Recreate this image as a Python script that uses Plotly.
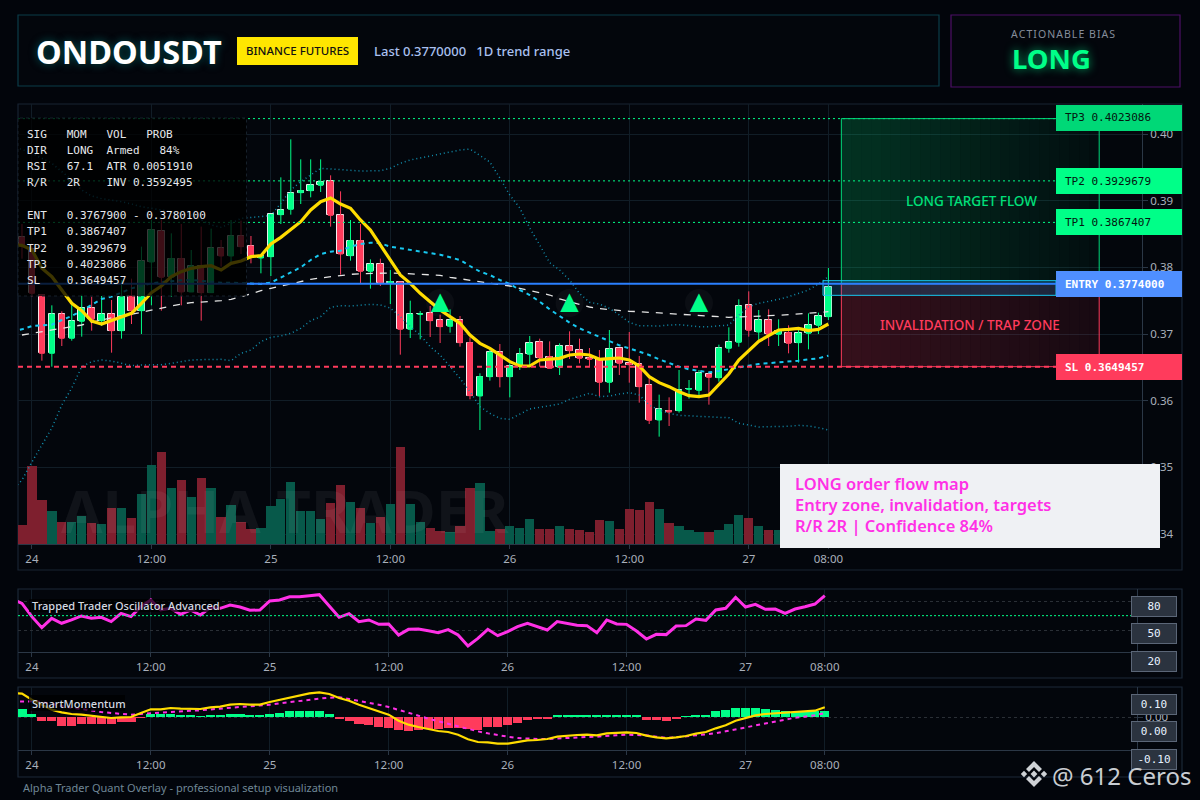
import pandas as pd
import plotly.graph_objects as go

SYMBOL = "ONDOUSDT"
VENUE = "BINANCE FUTURES"
SUBTITLE = "Last 0.3770000\u00a0\u00a0\u00a01D trend range"
BIAS = "LONG"

opens = [.3845,.3827,.3759,.3671,.37295,.36935,.3719,.37385,.3720,.37295,.3705,.37575,.3735,.3808,.3854,.3785,.3813,.3763,.3802,.3762,.38285,.3817,.3847,.3832,.3814,.3816,.3879,.3887,.3912,.3915,.3923,.3929,.3878,.38175,.3840,.3794,.38045,.3777,.3778,.3707,
 .37295,.3731,.37205,.37115,.37205,.3687,.3607,.3636,.36725,.3636,.36515,.36695,.36875,.3666,.3650,.36815,.36755,.3664,.3663,.36275,.36785,.3656,.36545,.3623,.3571,.3585,.3585,.3617,.36155,.36395,.36345,.36785,.36875,.3743,.3703,.37205,.36995,.3702,.3687,.3701,.3713,.3726]
closes = [.3833,.3761,.3671,.37295,.36935,.3719,.37385,.3722,.37295,.3705,.3756,.3735,.3809,.3856,.3785,.3813,.3763,.3802,.3762,.38285,.3817,.3847,.3831,.3815,.3817,.38795,.38855,.3911,.3915,.3923,.3928,.3878,.3820,.3840,.3794,.38045,.3777,.37785,.3707,.37295,
 .3730,.3720,.3711,.37205,.3687,.36075,.3636,.36725,.3636,.36515,.36695,.3686,.36645,.36485,.36815,.3675,.36635,.3662,.36275,.3677,.3656,.3654,.3621,.35705,.3587,.3583,.36155,.3618,.3641,.3635,.36785,.36875,.37415,.37055,.37205,.36995,.3705,.3686,.3701,.3713,.37265,.3770]
highs = [.3865,.3831,.3759,.3743,.3734,.3746,.3759,.3756,.3757,.3751,.3781,.3783,.3831,.3871,.3871,.3851,.3865,.3826,.3861,.3858,.3841,.3871,.3870,.3847,.3817,.38795,.3935,.3992,.3962,.3962,.3962,.3938,.3914,.3871,.3865,.3812,.3813,.3796,.3778,.3750,
 .37345,.3742,.3729,.3737,.3727,.3695,.3641,.3677,.3685,.3656,.3679,.3697,.3693,.3689,.3686,.3704,.3693,.3679,.3676,.3706,.3679,.3703,.3667,.3636,.3609,.3605,.3646,.3631,.3646,.3641,.3684,.3710,.3752,.3764,.3736,.3737,.3722,.3713,.3707,.3731,.3732,.3799]
lows = [.3813,.3756,.3660,.3651,.3682,.3690,.3696,.3705,.3712,.3672,.3693,.3715,.3700,.3743,.3735,.3756,.3743,.3763,.3720,.3762,.3801,.3806,.3820,.3806,.3791,.3787,.3865,.3879,.3895,.3905,.3913,.3861,.3789,.3810,.3776,.3768,.3772,.3745,.3669,.3694,
 .3692,.36955,.36865,.3702,.3681,.3602,.3556,.3630,.3620,.3605,.3646,.3651,.3651,.36485,.36385,.36625,.3656,.3651,.3607,.3612,.36385,.3627,.3597,.3565,.3546,.3562,.3582,.3603,.3606,.3594,.36285,.3672,.3681,.3696,.36885,.3682,.3682,.3671,.3657,.3677,.3700,.3721]
volumes = [19,78,44,33,22,22,28,21,20,36,36,26,50,79,92,56,64,47,66,56,27,39,22,15,16,38,45,62,33,33,25,41,59,42,36,21,27,40,97,40,
 22,16,13,12,18,56,61,13,15,18,16,25,15,15,18,15,14,12,24,23,15,35,34,42,35,21,18,14,12,12,14,20,29,26,18,14,14,16,13,18,22,20]
# The overlay lines start one bar earlier than the visible candles (clipped by the left edge).
ema_fast = [.3834,.3833,.3826,.37985,.3786,.3766,.3746,.3735,.37195,.3715,.3720,.3726,.3731,.3746,.3762,.3772,.3786,.37935,.37985,.3801,.38025,.3796,.3806,.38095,.3816,.38175,.3835,.3845,.3857,.38685,.3886,.38985,.3904,.3895,.38885,.3871,.3856,.38335,.3811,.37885,.3776,
 .3761,.37485,.3736,.3726,.3716,.36985,.3686,.36785,.36685,.36585,.3652,.3652,.3661,.36625,.36635,.36685,.367,.36685,.3662,.3663,.3664,.3661,.3652,.3636,.3627,.3621,.36135,.36075,.3606,.36085,.36235,.364,.3661,.36745,.3689,.36975,.3706,.3707,.37085,.3705,.3707,.3715]
ma_mid = [.3704,.3707,.3712,.3713,.3714,.3721,.3727,.3735,.37435,.37525,.3756,.3762,.37685,.3772,.3776,.3778,.37795,.37805,.3781,.37795,.3778,.3777,.3777,.37765,.3775,.3775,.3777,.37845,.3792,.38,.3811,.3820,.38235,.3825,.3831,.3835,.3837,.3836,.3831,.38285,.3826,
 .3824,.3822,.3819,.3815,.3811,.3802,.37935,.37885,.3781,.3775,.3766,.37585,.37485,.3737,.3727,.3717,.37085,.3702,.3695,.36895,.3683,.36785,.36735,.36685,.3662,.3656,.3651,.3647,.36445,.36425,.36445,.36475,.365,.36525,.3655,.3656,.36575,.36585,.366,.3662,.36635,.36675]
ma_slow = [.36985,.3701,.37025,.3705,.37075,.371,.37135,.37175,.3721,.37245,.37275,.37295,.37325,.3736,.37395,.3742,.3745,.3747,.37485,.3749,.375,.3752,.3756,.3761,.3765,.37685,.3772,.37755,.37785,.3782,.3784,.3786,.3788,.37895,.37905,.3791,.37915,.37915,.3791,.379,
 .3790,.3789,.3788,.3785,.3783,.378,.3778,.37765,.3775,.3772,.37685,.3765,.3762,.37585,.37525,.37485,.37435,.37405,.3738,.37365,.3735,.3734,.37335,.37325,.37315,.37305,.37295,.37285,.37275,.37265,.37255,.3725,.37255,.37265,.3727,.37275,.3728,.3729,.373,.37315,.37325,.37335]
band_upper = [.3980,.3977,.3971,.39635,.3956,.39435,.3931,.3916,.3907,.3903,.3901,.38985,.3895,.3891,.38885,.3886,.38835,.3881,.38785,.3871,.38635,.3860,.3866,.38735,.3875,.38755,.38775,.3896,.3916,.39285,.39385,.39485,.39475,.3946,.39455,.39445,.39445,.3945,.39485,.3956,.3961,
 .39635,.3967,.397,.3973,.3976,.39775,.3968,.3958,.3934,.39085,.3889,.3859,.38335,.3807,.3796,.3781,.3761,.37475,.3745,.37385,.37285,.37175,.37125,.3712,.3712,.37135,.3714,.37125,.3711,.3711,.3712,.37135,.37285,.3741,.3746,.37485,.3752,.3756,.3761,.3766,.3775,.3786]
band_lower = [.3465,.3481,.3508,.35335,.3559,.35935,.3619,.3651,.36585,.3661,.36595,.3656,.36525,.36535,.36535,.3654,.3656,.36585,.3661,.36615,.3662,.3662,.3660,.3671,.3676,.36885,.3695,.3697,.3701,.37085,.372,.3726,.3740,.37425,.3742,.3743,.37445,.37435,.3739,.3726,.3711,
 .36985,.3681,.36685,.3651,.36335,.36135,.3591,.3581,.35735,.3572,.3580,.35875,.359,.3592,.3595,.3602,.3607,.3611,.3606,.3607,.3610,.3612,.36085,.35935,.3586,.3581,.3578,.3577,.3576,.35755,.3575,.35745,.3566,.35635,.35605,.3561,.3561,.35615,.3563,.3562,.35595,.3556]
oscillator = [82,77.6,64.0,52.7,62.3,57.2,60.6,64.7,62.3,63.3,58.9,67.4,64.0,74.2,81.0,70.8,72.5,66.4,70.8,65.7,73.2,72.5,75.9,73.9,70.5,70.8,80,81,84.4,84.4,85.5,86.5,74.9,63.3,67,58.9,60.6,56.1,56.5,45.2,51,51.4,49.6,47.6,50.7,45.2,34,41.8,51,44.5,48.6,53.7,57.2,53.7,50.3,58.9,57.2,55.1,54.8,47.6,
 60.6,56.5,56.1,49.3,41.1,45.9,45.6,54.4,54.8,61.6,60.2,70.8,72.5,83.8,73.9,76.6,71.5,71.8,67.4,71.8,74.2,76.9,85.5]
mom_hist = [.025,.009,-.011,-.013,-.026,-.026,-.022,-.022,-.020,-.020,-.014,-.014,-.003,.010,.010,.009,.007,.007,.001,.007,.007,.010,.010,.007,.004,.010,.013,.017,.019,.019,.019,.010,-.005,-.011,-.020,-.023,-.029,-.032,-.038,-.041,-.038,-.035,-.035,-.032,-.032,-.035,-.038,-.029,-.029,-.023,-.017,-.008,-.005,-.005,.004,.007,.007,.006,.004,.007,.007,.007,.004,-.008,-.008,-.011,-.005,.002,.004,.007,.017,.020,.028,.028,.028,.025,.022,.019,.016,.016,.019,.019]
mom_line = [.072,.070,.052,.037,.022,.014,.009,.007,.003,-.001,-.003,-.001,0,.012,.023,.023,.027,.025,.025,.024,.029,.031,.037,.039,.037,.037,.045,.051,.059,.065,.071,.074,.069,.057,.049,.037,.027,.017,.007,-.011,-.023,-.030,-.036,-.042,-.045,-.053,-.067,-.075,-.076,-.080,-.080,-.075,-.070,-.069,-.066,-.059,-.056,-.054,-.053,-.055,-.049,-.047,-.046,-.048,-.056,-.061,-.064,-.061,-.057,-.050,-.045,-.034,-.025,-.011,-.003,.005,.009,.011,.011,.013,.016,.019,.029]
mom_signal = [.046,.047,.047,.045,.039,.033,.028,.024,.019,.015,.012,.010,.007,.009,.011,.013,.016,.019,.019,.020,.023,.025,.028,.030,.032,.034,.037,.041,.045,.048,.052,.055,.058,.059,.054,.049,.043,.037,.030,.022,.013,.004,-.005,-.013,-.021,-.029,-.036,-.043,-.049,-.055,-.059,-.063,-.065,-.066,-.066,-.064,-.062,-.061,-.060,-.059,-.058,-.055,-.053,-.053,-.055,-.059,-.063,-.061,-.058,-.056,-.053,-.049,-.043,-.037,-.031,-.025,-.019,-.013,-.008,-.002,.001,.005,.012]
for s in (opens, closes, highs, lows, volumes, ma_slow, mom_hist):
    assert len(s) == 82, len(s)
for s in (ema_fast, ma_mid, band_upper, band_lower, oscillator, mom_line, mom_signal):
    assert len(s) == 83, len(s)

signal_bars = [42, 55, 68]
signal_price = 0.37465
tick_hours = [0, 12, 24, 36, 48, 60, 72, 80]
tick_text = ["24", "12:00", "25", "12:00", "26", "12:00", "27", "08:00"]
price_ticks = [0.34, 0.35, 0.36, 0.37, 0.38, 0.39, 0.40]
tp_levels = [("TP3", 0.4023086), ("TP2", 0.3929679), ("TP1", 0.3867407)]
entry_level = 0.3774
sl_level = 0.3649457
entry_band = (0.3758, 0.3780)
osc_threshold = 65
osc_labels = ["80", "50", "20"]
mom_labels = ["0.10", "0.00", "-0.10"]
info_rows = ["SIG   MOM   VOL   PROB", "DIR   LONG  Armed   84%", "RSI   67.1  ATR 0.0051910", "R/R   2R    INV 0.3592495", "",
             "ENT   0.3767900 - 0.3780100", "TP1   0.3867407", "TP2   0.3929679", "TP3   0.4023086", "SL    0.3649457"]
box_rows = ["LONG order flow map", "Entry zone, invalidation, targets", "R/R 2R | Confidence 84%"]

GREEN, RED, YEL, MAG, CY = "#00ff88", "#ff3b5c", "#ffdc00", "#ff30e6", "#18c8f0"
BG = "#02050b"
GRID = "#111d27"
AXL = "#2b3746"
TXT = "#a9b0bb"
SANS, MONO = "Noto Sans", "DejaVu Sans Mono"
level_nudge = 0.00015

t0 = pd.Timestamp("2025-01-24 00:00")
def T(h):
    return t0 + pd.Timedelta(hours=h)
times = [T(h) for h in range(-1, 81)]
times_lead = [T(h) for h in range(-2, 81)]
xrange = [T(-1.4), T(111.5)]
ticks = [T(h) for h in tick_hours]
up = [c >= o for o, c in zip(opens, closes)]

PX = lambda x: x / 1200
PY = lambda y: 1 - y / 800

fig = go.Figure()
fig.add_bar(x=times, y=volumes, width=3360000, marker=dict(color=["#07594a" if u else "#7e1f2e" for u in up], line_width=0),
            xaxis="x", yaxis="y", name="Volume", hoverinfo="skip")
fig.add_scatter(x=times_lead, y=band_upper, mode="lines", line=dict(color="#1290b0", width=1.5, dash="1px,3px"), xaxis="x", yaxis="y2", name="Upper")
fig.add_scatter(x=times_lead, y=band_lower, mode="lines", line=dict(color="#1290b0", width=1.5, dash="1px,3px"), xaxis="x", yaxis="y2", name="Lower")
fig.add_scatter(x=times, y=ma_slow, mode="lines", line=dict(color="#e4e4e4", width=1.3, dash="7px,7px"), xaxis="x", yaxis="y2", name="MA slow")
fig.add_scatter(x=times_lead, y=ma_mid, mode="lines", line=dict(color=CY, width=2, dash="4px,4px"), xaxis="x", yaxis="y2", name="MA mid")
fig.add_candlestick(x=times, open=opens, high=highs, low=lows, close=closes, xaxis="x", yaxis="y2", name=SYMBOL,
                    increasing=dict(line=dict(color=GREEN, width=1), fillcolor=GREEN),
                    decreasing=dict(line=dict(color=RED, width=1), fillcolor=RED), whiskerwidth=0)
fig.add_bar(x=times, base=[min(o, c) for o, c in zip(opens, closes)], y=[abs(o - c) for o, c in zip(opens, closes)],
            width=2340000, marker=dict(color=[GREEN if u else RED for u in up], line=dict(color="#f3eef0", width=1)),
            xaxis="x", yaxis="y2", name="Body", hoverinfo="skip")
fig.add_scatter(x=times_lead, y=ema_fast, mode="lines", line=dict(color=YEL, width=3.2), xaxis="x", yaxis="y2", name="EMA")
sig_x = [times[i] for i in signal_bars]
sig_y = [signal_price] * len(signal_bars)
fig.add_scatter(x=sig_x, y=sig_y, mode="markers", marker=dict(symbol="circle", size=28, color="rgba(255,255,255,0.035)"), xaxis="x", yaxis="y2", hoverinfo="skip")
fig.add_scatter(x=sig_x, y=sig_y, mode="text", text=["\u25b2"] * len(sig_x), textposition="middle center",
                textfont=dict(size=24, color=GREEN, family="DejaVu Sans"), xaxis="x", yaxis="y2", name="Signal")
fig.add_scatter(x=times_lead, y=oscillator, mode="lines", line=dict(color=MAG, width=3), xaxis="x2", yaxis="y3", name="Oscillator")
fig.add_bar(x=times, y=mom_hist, width=3300000, marker=dict(color=[GREEN if v >= 0 else RED for v in mom_hist], line_width=0), xaxis="x3", yaxis="y4", name="Hist")
fig.add_scatter(x=times_lead, y=mom_signal, mode="lines", line=dict(color=MAG, width=2, dash="4px,4px"), xaxis="x3", yaxis="y4", name="Signal line")
fig.add_scatter(x=times_lead, y=mom_line, mode="lines", line=dict(color=YEL, width=2.2), xaxis="x3", yaxis="y4", name="Momentum")

shapes, notes = [], []
def prect(x0, y0, x1, y1, fill="rgba(0,0,0,0)", line=None, lw=1, layer="above", dash=None):
    shapes.append(dict(type="rect", xref="paper", yref="paper", x0=PX(x0), x1=PX(x1), y0=PY(y1), y1=PY(y0),
                       fillcolor=fill, line=dict(color=line or "rgba(0,0,0,0)", width=lw if line else 0, dash=dash), layer=layer))
def note(text, x, y, size, color, font=SANS, anchor="left", weight=None, shadow=None, **kw):
    f = dict(size=size, color=color, family=font)
    if weight: f["weight"] = weight
    if shadow: f["shadow"] = shadow
    if anchor == "left": x -= 2
    notes.append(dict(text=text.replace(" ", "\u00a0") if font == MONO else text, x=PX(x), y=PY(y), xref="paper", yref="paper",
                      showarrow=False, xanchor=anchor, yanchor="middle", font=f, **kw))
def hline(p, x0, x1, color, width, dash):
    shapes.append(dict(type="line", xref="paper", yref="y2", x0=PX(x0), x1=PX(x1), y0=p, y1=p, line=dict(color=color, width=width, dash=dash), layer="above"))

prect(18, 15, 939, 86, "#03060c", "#0b3d49", 1.2, "below")
prect(951, 15, 1180, 87, "#03060c", "#4d0f66", 1.2, "below")
prect(18, 104, 1182, 570, "#03060c", "#182432", 1.2, "below")
prect(18, 589, 1182, 678, "#03060c", "#1c2838", 1.2, "below")
prect(18, 687, 1182, 777, "#03060c", "#1c2838", 1.2, "below")

entry_draw, sl_draw = entry_level + level_nudge, sl_level + level_nudge
for _, p in tp_levels:
    hline(p, 18, 1056, GREEN, 1, "2px,3px")
hline(sl_draw, 18, 1056, RED, 2, "5px,4px")

z0, z1 = 81.3, 107.2
N = 26
top = tp_levels[0][1]
for k in range(N):
    a = z0 + (z1 - z0) * k / N
    b = z0 + (z1 - z0) * (k + 1) / N
    shapes.append(dict(type="rect", xref="x", yref="y2", x0=T(a), x1=T(b), y0=entry_draw, y1=top, line_width=0,
                       fillcolor=f"rgba(0,255,136,{0.18 - 0.15 * k / N:.3f})", layer="above"))
    shapes.append(dict(type="rect", xref="x", yref="y2", x0=T(a), x1=T(b), y0=sl_draw, y1=entry_draw, line_width=0,
                       fillcolor=f"rgba(255,59,92,{0.20 - 0.12 * k / N:.3f})", layer="above"))
shapes.append(dict(type="rect", xref="x", yref="y2", x0=T(z0), x1=T(z1), y0=entry_draw, y1=top, line=dict(color="#00d97a", width=1), layer="above"))
shapes.append(dict(type="rect", xref="x", yref="y2", x0=T(z0), x1=T(z1), y0=sl_draw, y1=entry_draw, line=dict(color=RED, width=1), layer="above"))
shapes.append(dict(type="rect", xref="paper", yref="y2", x0=PX(823), x1=PX(1056), y0=entry_band[0], y1=entry_band[1],
                   fillcolor="rgba(30,140,210,0.22)", line=dict(color=CY, width=1), layer="above"))
hline(entry_draw, 18, 1056, "#2a7fff", 2, "solid")

prect(18, 118, 246.5, 296, "rgba(0,0,0,0.76)", "#16202a", 1, dash="dot")
for k, row in enumerate(info_rows):
    if row:
        note(row, 27, 134 + k * 16.3, 11, "#e6e8ec", MONO)

lab_y = [118, 181, 222]
for (name, p), y, fc in zip(tp_levels, lab_y, ["#00d877", GREEN, GREEN]):
    prect(1056, y - 13, 1182, y + 13, fc)
    note(f"{name} {p:.7f}", 1065, y, 11, "#04150f", MONO)
prect(1056, 271, 1182, 297, "#4f8fff")
note(f"ENTRY {entry_level:.7f}", 1065, 284, 11, "#ffffff", MONO, weight=700)
prect(1056, 354, 1182, 380, RED)
note(f"SL {sl_level:.7f}", 1065, 367, 11, "#ffffff", MONO, weight=700)
note("LONG TARGET FLOW", 971, 201, 13.5, "#00e07a", SANS, "center", weight=500)
note("INVALIDATION / TRAP ZONE", 970, 325, 13.5, RED, SANS, "center", weight=500)

note("ALPHA TRADER", 285, 510, 60, "rgba(255,255,255,0.055)", SANS, "center", weight=700)

prect(780, 464, 1160, 548, "#eff1f4")
for k, row in enumerate(box_rows):
    note(row, 795, 483.5 + k * 21, 16.5, MAG, SANS, weight=600)

prect(29, 599, 220, 612, "rgba(0,0,0,0.72)")
note("Trapped Trader Oscillator Advanced", 32, 605, 11, "#d5dae2", SANS, weight=500)
prect(29, 695, 125, 711, "rgba(0,0,0,0.72)")
note("SmartMomentum", 32, 703, 11, "#d5dae2", SANS, weight=500)
for text, y in zip(osc_labels, [606.5, 633.5, 661.5]):
    note(text, 1154, y, 11, "#e8f2ff", MONO, "center", bgcolor="#2b333f", bordercolor="#5b6677", borderwidth=1, width=42, height=17)
for text, y in zip(mom_labels, [704, 731.5, 759.5]):
    note(text, 1154, y, 11, "#e8f2ff", MONO, "center", bgcolor="#2b333f", bordercolor="#5b6677", borderwidth=1, width=42, height=17)

note(SYMBOL, 36, 52, 32.5, "#ffffff", SANS, weight=700, shadow="0 0 8px #055")
prect(237, 37, 358, 65, "#ffe600")
note(VENUE, 297.5, 51, 11.5, "#111111", SANS, "center", weight=500)
note(SUBTITLE, 374, 51, 13, "#a9c0f0", SANS, weight=500)
note("\u200a".join("ACTIONABLE BIAS"), 1011, 34, 10.5, "#858d9b", SANS)
note(BIAS, 1012, 58, 27.5, GREEN, SANS, weight=700, shadow="0 0 10px #00aa66")
note("Alpha Trader Quant Overlay - professional setup visualization", 23, 787, 11, "#6f8796", SANS)

cx, cy = 1034, 774
def poly(pts, fill="#cfd2d6"):
    path = "M" + " L".join(f"{PX(cx + a):.5f},{PY(cy + b):.5f}" for a, b in pts) + " Z"
    shapes.append(dict(type="path", xref="paper", yref="paper", path=path, fillcolor=fill, line_width=0, layer="above"))
poly([(0, -13), (8, -5), (5, -2), (0, -7), (-5, -2), (-8, -5)])
poly([(0, 13), (8, 5), (5, 2), (0, 7), (-5, 2), (-8, 5)])
poly([(0, -3.4), (3.4, 0), (0, 3.4), (-3.4, 0)])
poly([(-10, -3.2), (-6.8, 0), (-10, 3.2), (-13.2, 0)])
poly([(10, -3.2), (13.2, 0), (10, 3.2), (6.8, 0)])
note("@ 612 Ceros", 1052, 775, 24, "#c9cdd2", SANS)

xbase = dict(type="date", range=xrange, tickmode="array", tickvals=ticks, ticktext=tick_text, showgrid=True, gridcolor=GRID, gridwidth=1,
             ticks="outside", ticklen=4, tickcolor=AXL, tickfont=dict(size=11.5, color=TXT, family=SANS), showline=True, linecolor=AXL, linewidth=1,
             zeroline=False, rangeslider=dict(visible=False), fixedrange=True)
ybase = dict(showgrid=True, gridcolor=GRID, zeroline=False, showline=True, linecolor=AXL, linewidth=1, fixedrange=True)
fig.update_layout(
    width=1200, height=800, margin=dict(l=0, r=0, t=0, b=0), paper_bgcolor=BG, plot_bgcolor="rgba(0,0,0,0)", showlegend=False,
    barmode="overlay", bargap=0, shapes=shapes, annotations=notes, hovermode=False,
    xaxis=dict(xbase, domain=[PX(18), PX(1142)], anchor="y"),
    yaxis=dict(domain=[PY(544), PY(104)], range=[0, 440], visible=False, fixedrange=True),
    yaxis2=dict(ybase, domain=[PY(544), PY(104)], range=[0.3385, 0.4045], overlaying="y", anchor="x", side="right", tickmode="array",
                tickvals=price_ticks, ticktext=[f"{v:.2f}" for v in price_ticks], ticks="outside", ticklen=5, tickcolor=AXL,
                tickfont=dict(size=11.5, color=TXT, family=SANS)),
    xaxis2=dict(xbase, domain=[PX(18), PX(1137)], anchor="y3"),
    yaxis3=dict(ybase, domain=[PY(652), PY(589)], range=[27.8, 92.3], anchor="x2", side="right", tickmode="array", tickvals=[50, 80],
                showticklabels=False, griddash="dot", gridcolor="#2a2f36"),
    xaxis3=dict(xbase, domain=[PX(18), PX(1137)], anchor="y4"),
    yaxis4=dict(ybase, domain=[PY(750), PY(687)], range=[-0.099, 0.09], anchor="x3", side="right", tickmode="array", tickvals=[0], ticktext=["0.00"],
                ticks="outside", ticklen=5, tickcolor=AXL, griddash="dot", gridcolor="#2a2f36", tickfont=dict(size=11.5, color=TXT, family=SANS)),
)
fig.add_shape(type="line", xref="x2", yref="y3", x0=T(-1.4), x1=T(111.7), y0=osc_threshold, y1=osc_threshold, line=dict(color=GREEN, width=1, dash="2px,2px"), layer="above")

fig.write_html("out.html", config=dict(displayModeBar=False),
               post_script="document.body.style.margin='0';document.body.style.background='#000';document.body.style.overflow='hidden';")
